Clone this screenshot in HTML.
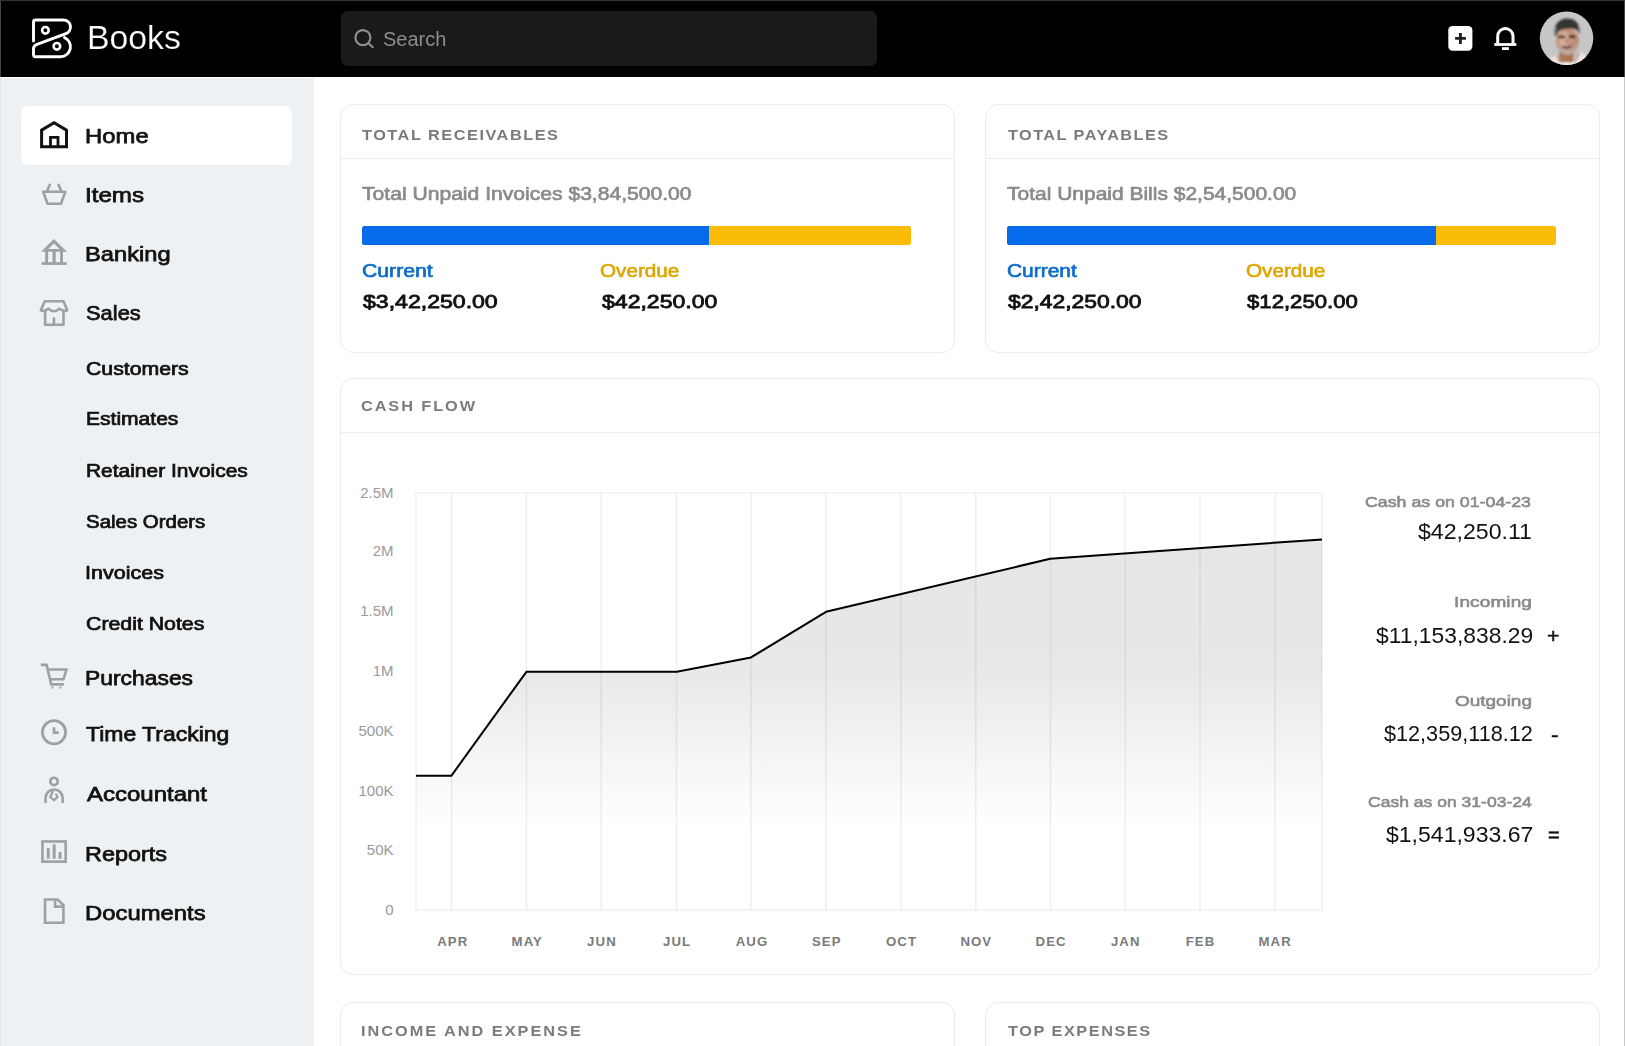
<!DOCTYPE html>
<html lang="en">
<head>
<meta charset="utf-8">
<title>Books</title>
<style>
*{box-sizing:border-box;margin:0;padding:0}
html,body{width:1625px;height:1046px;overflow:hidden;background:#fff}
body{font-family:"Liberation Sans",sans-serif;color:#111;position:relative}
.t{position:absolute;white-space:nowrap;line-height:1;display:block;transform-origin:0 0}
#hdr{position:absolute;left:0;top:0;width:1625px;height:77px;background:#000;border-top:1px solid #333;border-left:1px solid #444;border-right:1px solid #444}
#side{position:absolute;left:0;top:78px;width:314px;height:968px;background:#eef1f3;border-left:1px solid #e4e6e8}
#edge{position:absolute;left:1624px;top:77px;width:1px;height:969px;background:#c9c9c9}
.card{position:absolute;background:#fff;border:1px solid #ececec;border-radius:13px}
.card .hd{position:absolute;left:0;right:0;top:0;border-bottom:1px solid #ececec}
.nav{color:#111;-webkit-text-stroke:.75px #111}
.sub{color:#111;-webkit-text-stroke:.7px #111}
.ttl{font-weight:700;color:#7b7b7b}
.lbl{color:#8a8a8a;-webkit-text-stroke:.65px #8a8a8a}
.cur{color:#0b6bcb;-webkit-text-stroke:.6px #0b6bcb}
.ovd{color:#dfa600;-webkit-text-stroke:.6px #dfa600}
.amt{color:#111;-webkit-text-stroke:.8px #111}
.rl{color:#8a8a8a;-webkit-text-stroke:.6px #8a8a8a}
.op{-webkit-text-stroke:.5px #111}
.rv{color:#111}
.ic{position:absolute}
a{color:inherit;text-decoration:none}
h2{font-weight:700}
.bar{position:absolute;height:18.8px;background:#fbbc05;border-radius:2.5px;overflow:hidden}
.bar i{display:block;height:100%;background:#056bea}
</style>
</head>
<body>
<header>
<div id="hdr"></div>
<svg class="ic" id="logo" style="left:28px;top:14px" width="48" height="48" viewBox="28 14 48 48" fill="none" stroke="#fff" stroke-width="2.9" stroke-linecap="round" stroke-linejoin="round">
<path d="M33.5 41V22a2 2 0 0 1 2-2H63.5a7 7 0 0 1 2.46 13.55L37 44.4Q33.5 45.7 33.5 48.5V54.75a2 2 0 0 0 2 2H60.5a10 10 0 0 0 4-19.15"/>
<circle cx="45.4" cy="30.3" r="3.3" stroke-width="2.6"/><circle cx="56.9" cy="46.3" r="3.3" stroke-width="2.6"/>
</svg>
<span class="t" style="left:86.86px;top:22px;font-size:32.5px;color:#fff;-webkit-text-stroke:.2px #000;transform:scaleX(1.0411);letter-spacing:-0.05px;">Books</span>
<div id="search" style="position:absolute;left:341px;top:11px;width:536px;height:55px;background:#1a1a1a;border-radius:6.5px"></div>
<svg class="ic" style="left:352px;top:26px" width="24" height="24" viewBox="352 26 24 24" fill="none" stroke="#8f8f8f" stroke-width="2.2" stroke-linecap="round"><circle cx="362.900" cy="37.600" r="7.500"/><path d="M368.500 43.200L372.700 47.200"/></svg>
<span class="t" style="left:383.21px;top:30px;font-size:19.6px;color:#8d8d8d;transform:scaleX(1.0189);letter-spacing:0.02px;">Search</span>
<svg class="ic" id="hicons" style="left:1440px;top:14px" width="90" height="50" viewBox="1440 14 90 50">
<rect x="1448.3" y="26.1" width="24.1" height="24.7" rx="4.2" fill="#fff"/>
<path d="M1455.1 38.4H1465.9M1460.4 33.1V43.9" stroke="#222" stroke-width="2.9" fill="none"/>
<path d="M1497.7 43.5V36.15a7.65 7.65 0 0 1 15.3 0V43.5" stroke="#fff" stroke-width="3" fill="none"/>
<rect x="1494.3" y="43.1" width="22.1" height="2.8" fill="#fff"/>
<rect x="1502" y="47.2" width="6.9" height="2.8" fill="#fff"/>
</svg>
<svg class="ic" id="avatar" style="left:1539px;top:11px" width="56" height="56" viewBox="0 0 56 56">
<defs><clipPath id="avc"><circle cx="27.55" cy="27.25" r="26.75"/></clipPath><filter id="avb" x="-20%" y="-20%" width="140%" height="140%"><feGaussianBlur stdDeviation="0.8"/></filter></defs>
<g clip-path="url(#avc)">
<rect width="56" height="56" fill="#c6c6c6"/>
<g filter="url(#avb)" transform="translate(.65 .35)">
<path d="M5 56C7 49 12 45.500 19 43.500L21 51 33.500 51 38.500 39.500C46 42 50 47 51 56Z" fill="#ece3df"/>
<path d="M19.500 41h14.500l-.500 9.500q-7 3.500-13.500 0z" fill="#a97650"/>
<ellipse cx="26.500" cy="53.300" rx="7.500" ry="2.400" fill="#f6f3ee"/>
<path d="M38.500 39.500L34 50.500 36 51 40.500 42zM19 43.500L21 51 19.500 51.500 16.500 45z" fill="#b9a39c"/>
<ellipse cx="28" cy="30" rx="11.400" ry="13.600" fill="#c1917a"/>
<ellipse cx="24.500" cy="29" rx="5.500" ry="9" fill="#d6ad98"/>
<path d="M17.200 33.500q1.300 9.300 10.600 10.300 8.500-1 10.700-10.300-4 4.700-10.500 4.700-6.300 0-10.800-4.700z" fill="#b7a89e"/>
<path d="M15.600 25C12.500 12.500 21 7 27.500 7.100 36 7.300 41 12.500 39.600 22.500 38 17.500 33.500 16.800 27 17.500 20.500 18 18 19.500 17 25z" fill="#353432"/>
<path d="M15.800 24q-.800-5 1.200-8M39.500 22q.600-4-.800-7" stroke="#7d7974" stroke-width="1.400" fill="none"/>
<path d="M18.800 26.300q3.200-1.700 6.600 0M29.300 25.900q3.200-1.700 6.600 .100" stroke="#3c2820" stroke-width="2.600" fill="none"/>
<path d="M27.600 27v5.800" stroke="#a87862" stroke-width="1.800" fill="none"/>
<path d="M22.300 35q4.600 2.800 9.400-.400" stroke="#5e382e" stroke-width="2.100" fill="none"/>
</g></g></svg>
</header>
<nav>
<div id="side"></div>
<div id="homebg" style="position:absolute;left:21px;top:106px;width:271px;height:59px;background:#fff;border-radius:7px"></div>
<svg class="ic" id="navicons" style="left:30px;top:110px" width="50" height="830" viewBox="30 110 50 830" fill="none" stroke="#9da1a4" stroke-width="2.6">
<g stroke="#111" stroke-width="3" stroke-linejoin="miter"><path d="M41.600 130.100L54.050 122.650 66.500 130.100V146.700H41.600Z"/><path d="M50.500 146.700V137.400H58V146.700" stroke-width="2.800"/></g>
<g stroke-linecap="round" stroke-linejoin="round"><path d="M43.200 191.800H65.300L61 203.700H47.500Z"/><path d="M49.800 184.800L47 191.500M58.600 184.800L61.300 191.500"/></g>
<g fill="#9da1a4" stroke="none"><path fill-rule="evenodd" d="M53.900 238.900L66.900 251.700H41.100ZM53.900 243.600L59.600 249H48.200Z"/><rect x="45.200" y="251" width="2.900" height="12"/><rect x="52.500" y="251" width="3.200" height="12"/><rect x="60.100" y="251" width="2.900" height="12"/><rect x="41.500" y="262.200" width="25.300" height="2.700"/></g>
<g stroke-linejoin="round" stroke-linecap="round"><path d="M44.800 301.200H63.600L67.200 310.200Q62.800 311.800 59.200 308.600Q54 314 48.400 308.600Q45 311.800 40.800 310.200Z"/><path d="M45.100 311.500V324.700H63.500V311.500M53.900 318.200V324.700"/></g>
<g stroke-linejoin="miter"><path d="M40.800 664.900H46.600L51.200 684.400H63.900M48 669.500H66.500L63.400 679.300H50.200"/><circle cx="52.500" cy="687.700" r="1.100" fill="#9da1a4" stroke="none"/><circle cx="60.400" cy="687.700" r="1.100" fill="#9da1a4" stroke="none"/></g>
<g><circle cx="54" cy="732.300" r="11.600" stroke-width="2.800"/><path d="M54 727.200V732.600H58.700"/></g>
<g><circle cx="54" cy="781.400" r="3.700"/><path d="M45.500 803V798.100a8.600 8.600 0 0 1 17.200 0V803"/><path d="M53 790.500L50.300 797 54 800.300 57.600 797 55.800 793.800" stroke-width="2.200"/></g>
<g><rect x="42.450" y="841.450" width="23.200" height="20.200"/><path d="M48.250 848.200V858.700M54.150 844.200V858.700M60.100 852V858.700" stroke-width="3"/></g>
<g stroke-linejoin="miter"><path d="M45 899.500H57.500L63.400 905V922.700H45Z"/><path d="M55.100 899.500V906.600H63.400"/></g>
</svg>
<a class="t nav" style="left:84.89px;top:126px;font-size:20.8px;transform:scaleX(1.1445);letter-spacing:0.04px;">Home</a>
<a class="t nav" style="left:85.03px;top:185px;font-size:20.8px;transform:scaleX(1.1615);letter-spacing:-0.01px;">Items</a>
<a class="t nav" style="left:84.94px;top:244px;font-size:20.8px;transform:scaleX(1.1378);letter-spacing:0.02px;">Banking</a>
<a class="t nav" style="left:86.22px;top:303px;font-size:20.8px;transform:scaleX(1.0510);letter-spacing:0.02px;">Sales</a>
<a class="t sub" style="left:86.37px;top:361px;font-size:17.6px;transform:scaleX(1.2077);letter-spacing:-0.00px;">Customers</a>
<a class="t sub" style="left:85.70px;top:411px;font-size:17.6px;transform:scaleX(1.1960);letter-spacing:-0.00px;">Estimates</a>
<a class="t sub" style="left:85.75px;top:463px;font-size:17.6px;transform:scaleX(1.1885);letter-spacing:0.01px;">Retainer Invoices</a>
<a class="t sub" style="left:86.18px;top:514px;font-size:17.6px;transform:scaleX(1.1618);letter-spacing:-0.00px;">Sales Orders</a>
<a class="t sub" style="left:84.72px;top:565px;font-size:17.6px;transform:scaleX(1.2200);letter-spacing:0.03px;">Invoices</a>
<a class="t sub" style="left:86.37px;top:616px;font-size:17.6px;transform:scaleX(1.2116);letter-spacing:-0.01px;">Credit Notes</a>
<a class="t nav" style="left:85.18px;top:668px;font-size:20.8px;transform:scaleX(1.0974);letter-spacing:0.02px;">Purchases</a>
<a class="t nav" style="left:86.15px;top:724px;font-size:20.8px;transform:scaleX(1.1047);letter-spacing:-0.01px;">Time Tracking</a>
<a class="t nav" style="left:87.13px;top:784px;font-size:20.8px;transform:scaleX(1.1531);letter-spacing:0.00px;">Accountant</a>
<a class="t nav" style="left:85.01px;top:844px;font-size:20.8px;transform:scaleX(1.1271);letter-spacing:-0.01px;">Reports</a>
<a class="t nav" style="left:84.90px;top:903px;font-size:20.8px;transform:scaleX(1.1448);letter-spacing:0.02px;">Documents</a>
</nav>
<main>
<section>
<div class="card" id="c1" style="left:340px;top:104px;width:615px;height:249px"><div class="hd" style="height:54px"></div></div>
<h2 class="t ttl" style="left:361.72px;top:127px;font-size:15.5px;transform:scaleX(1.0500);letter-spacing:1.45px;">TOTAL RECEIVABLES</h2>
<span class="t lbl" style="left:361.95px;top:185px;font-size:18.4px;transform:scaleX(1.1472);letter-spacing:0.00px;">Total Unpaid Invoices $3,84,500.00</span>
<div class="bar" style="left:362px;top:226.2px;width:549px"><i style="width:347px"></i></div>
<span class="t cur" style="left:362.03px;top:263px;font-size:17.6px;transform:scaleX(1.2078);letter-spacing:-0.03px;">Current</span>
<span class="t ovd" style="left:600.16px;top:263px;font-size:17.6px;transform:scaleX(1.1737);letter-spacing:0.01px;">Overdue</span>
<span class="t amt" style="left:362.58px;top:293px;font-size:18.7px;transform:scaleX(1.2359);letter-spacing:-0.01px;">$3,42,250.00</span>
<span class="t amt" style="left:601.58px;top:293px;font-size:18.7px;transform:scaleX(1.2342);letter-spacing:-0.01px;">$42,250.00</span>
</section>
<section>
<div class="card" id="c2" style="left:985px;top:104px;width:615px;height:249px"><div class="hd" style="height:54px"></div></div>
<h2 class="t ttl" style="left:1007.92px;top:127px;font-size:15.5px;transform:scaleX(1.0500);letter-spacing:1.37px;">TOTAL PAYABLES</h2>
<span class="t lbl" style="left:1007.15px;top:185px;font-size:18.4px;transform:scaleX(1.1395);letter-spacing:0.01px;">Total Unpaid Bills $2,54,500.00</span>
<div class="bar" style="left:1007px;top:226.2px;width:549px"><i style="width:429px"></i></div>
<span class="t cur" style="left:1007.26px;top:263px;font-size:17.6px;transform:scaleX(1.1911);letter-spacing:-0.01px;">Current</span>
<span class="t ovd" style="left:1245.76px;top:263px;font-size:17.6px;transform:scaleX(1.1799);letter-spacing:-0.03px;">Overdue</span>
<span class="t amt" style="left:1007.78px;top:293px;font-size:18.7px;transform:scaleX(1.2240);letter-spacing:-0.00px;">$2,42,250.00</span>
<span class="t amt" style="left:1246.75px;top:293px;font-size:18.7px;transform:scaleX(1.1836);letter-spacing:0.01px;">$12,250.00</span>
</section>
<section>
<div class="card" id="c3" style="left:340px;top:378px;width:1260px;height:597px"><div class="hd" style="height:54px"></div></div>
<h2 class="t ttl" style="left:360.82px;top:398px;font-size:15.5px;transform:scaleX(1.0500);letter-spacing:1.84px;">CASH FLOW</h2>
<svg class="ic" id="chart" style="left:341px;top:470px" width="1000" height="490" viewBox="341 470 1000 490">
<defs><linearGradient id="g" x1="0" y1="539" x2="0" y2="910" gradientUnits="userSpaceOnUse"><stop offset="0" stop-color="#e6e6e6"/><stop offset="0.35" stop-color="#e8e8e8"/><stop offset="0.78" stop-color="#ffffff"/><stop offset="1" stop-color="#ffffff"/></linearGradient></defs>
<path d="M416 775.8H451.3L526.4 671.8H676.8L751 657.4 826 611.8 1050.2 558.8 1322 539.4 V910 H416 Z" fill="url(#g)"/>
<g stroke="#000" stroke-opacity="0.058" stroke-width="1.6" fill="none">
<path d="M451.5 493V910M526.4 493V910M601.2 493V910M676.5 493V910M751 493V910M826 493V910M901 493V910M975.8 493V910M1050.5 493V910M1125.3 493V910M1200 493V910M1275 493V910"/>
<path d="M416 493H1322V910H416Z"/>
</g>
<path d="M416 775.8H451.3L526.4 671.8H676.8L751 657.4 826 611.8 1050.2 558.8 1322 539.4" fill="none" stroke="#000" stroke-width="2" stroke-linejoin="round"/>
<g font-family="Liberation Sans, sans-serif" font-size="13.8" fill="#9a9a9a" text-anchor="end" transform="translate(393.6 0) scale(1.09 1)">
<text x="0" y="497.7">2.5M</text><text x="0" y="556.2">2M</text><text x="0" y="615.8">1.5M</text><text x="0" y="676">1M</text><text x="0" y="736">500K</text><text x="0" y="796">100K</text><text x="0" y="855.3">50K</text><text x="0" y="915.5">0</text>
</g>
<g font-family="Liberation Sans, sans-serif" font-size="13.2" font-weight="700" fill="#7a7a7a" text-anchor="middle" letter-spacing="1.1">
<text x="452.75" y="945.7">APR</text><text x="527.25" y="945.7">MAY</text><text x="601.95" y="945.7">JUN</text><text x="677.15" y="945.7">JUL</text><text x="751.95" y="945.7">AUG</text><text x="826.75" y="945.7">SEP</text><text x="901.55" y="945.7">OCT</text><text x="976.35" y="945.7">NOV</text><text x="1051.15" y="945.7">DEC</text><text x="1125.75" y="945.7">JAN</text><text x="1200.55" y="945.7">FEB</text><text x="1275.15" y="945.7">MAR</text>
</g>
</svg>
<span class="t rl" style="left:1365.32px;top:494px;font-size:15.2px;transform:scaleX(1.1686);letter-spacing:0.01px;">Cash as on 01-04-23</span>
<span class="t rv" style="left:1417.55px;top:522px;font-size:21.3px;transform:scaleX(1.0852);">$42,250.11</span>
<span class="t rl" style="left:1454.41px;top:594px;font-size:15.2px;transform:scaleX(1.2500);letter-spacing:0.10px;">Incoming</span>
<span class="t rv" style="left:1375.78px;top:626px;font-size:21.3px;transform:scaleX(1.0711);letter-spacing:0.02px;">$11,153,838.29</span>
<span class="t op" style="left:1547.43px;top:625px;font-size:21px;transform:scaleX(1.0146);">+</span>
<span class="t rl" style="left:1454.57px;top:693px;font-size:15.2px;transform:scaleX(1.2500);letter-spacing:-0.01px;">Outgoing</span>
<span class="t rv" style="left:1384.21px;top:724px;font-size:21.3px;transform:scaleX(1.0167);letter-spacing:-0.01px;">$12,359,118.12</span>
<span class="t op" style="left:1550.97px;top:724px;font-size:21px;transform:scaleX(1.0782);">-</span>
<span class="t rl" style="left:1367.80px;top:794px;font-size:15.2px;transform:scaleX(1.1514);letter-spacing:0.02px;">Cash as on 31-03-24</span>
<span class="t rv" style="left:1385.78px;top:825px;font-size:21.3px;transform:scaleX(1.0808);letter-spacing:0.01px;">$1,541,933.67</span>
<span class="t op" style="left:1547.62px;top:824px;font-size:21px;transform:scaleX(0.9519);">=</span>
</section>
<section>
<div class="card" id="c4" style="left:340px;top:1002px;width:615px;height:100px"></div>
<h2 class="t ttl" style="left:360.77px;top:1023px;font-size:15.5px;transform:scaleX(1.0500);letter-spacing:1.91px;">INCOME AND EXPENSE</h2>
</section>
<section>
<div class="card" id="c5" style="left:985px;top:1002px;width:615px;height:100px"></div>
<h2 class="t ttl" style="left:1007.72px;top:1023px;font-size:15.5px;transform:scaleX(1.0500);letter-spacing:1.47px;">TOP EXPENSES</h2>
</section>
</main>
<div id="edge"></div>
</body>
</html>
